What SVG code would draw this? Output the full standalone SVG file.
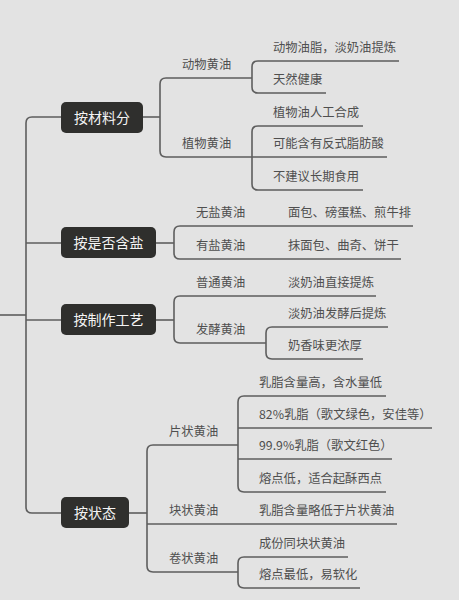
<svg xmlns="http://www.w3.org/2000/svg" width="459" height="600" viewBox="0 0 459 600">
<style>
.bg{fill:#e3e3e3}
.ln{fill:none;stroke:#5e5e5e;stroke-width:1.6;stroke-linecap:butt}
.nb{fill:#2f2f2d}
.nt{font-family:"Noto Sans CJK SC","Noto Sans",sans-serif;font-size:14px;fill:#f4f4f4;text-anchor:middle}
.t{font-family:"Noto Sans CJK SC","Noto Sans",sans-serif;font-size:12.3px;fill:#4f4f4f}
</style>
<rect class="bg" x="0" y="0" width="459" height="600"/>
<g id="connectors">
<path class="ln" d="M0 315 H26"/>
<path class="ln" d="M61 117 H32 Q26 117 26 123 V507 Q26 513 32 513 H61"/>
<path class="ln" d="M26 243 H61"/>
<path class="ln" d="M26 320 H61"/>
<path class="ln" d="M143 117 H160"/>
<path class="ln" d="M252 78 H166 Q160 78 160 84 V151 Q160 157 166 157 H387"/>
<path class="ln" d="M399 61 H258 Q252 61 252 67 V87 Q252 93 258 93 H326"/>
<path class="ln" d="M363 126 H258 Q252 126 252 132 V184 Q252 190 258 190 H363"/>
<path class="ln" d="M156 243 H174"/>
<path class="ln" d="M413 226 H180 Q174 226 174 232 V253 Q174 259 180 259 H401"/>
<path class="ln" d="M156 320 H174"/>
<path class="ln" d="M376 296 H180 Q174 296 174 302 V337 Q174 343 180 343 H266"/>
<path class="ln" d="M388 327 H272 Q266 327 266 333 V353 Q266 359 272 359 H363"/>
<path class="ln" d="M129 513 H147"/>
<path class="ln" d="M238 445 H153 Q147 445 147 451 V566 Q147 572 153 572 H238"/>
<path class="ln" d="M147 524 H397"/>
<path class="ln" d="M386 396 H244 Q238 396 238 402 V486 Q238 492 244 492 H386"/>
<path class="ln" d="M238 428 H432"/>
<path class="ln" d="M238 459 H392"/>
<path class="ln" d="M348 557 H244 Q238 557 238 563 V582 Q238 588 244 588 H360"/>
</g>
<g id="n-material"><rect class="nb" x="61" y="102" width="82" height="31" rx="5"/><text class="nt" x="102" y="122.5">按材料分</text></g>
<g id="n-salt"><rect class="nb" x="61" y="227" width="95" height="31" rx="5"/><text class="nt" x="108.5" y="247.5">按是否含盐</text></g>
<g id="n-craft"><rect class="nb" x="61" y="304" width="95" height="31" rx="5"/><text class="nt" x="108.5" y="324.5">按制作工艺</text></g>
<g id="n-state"><rect class="nb" x="61" y="497" width="68" height="31" rx="5"/><text class="nt" x="95" y="517.5">按状态</text></g>
<g id="n-animal"><text class="t" x="182" y="69">动物黄油</text></g>
<g id="n-plant"><text class="t" x="182" y="148">植物黄油</text></g>
<g id="n-a1"><text class="t" x="273" y="52">动物油脂，淡奶油提炼</text></g>
<g id="n-a2"><text class="t" x="273" y="84">天然健康</text></g>
<g id="n-p1"><text class="t" x="273" y="117">植物油人工合成</text></g>
<g id="n-p2"><text class="t" x="273" y="148">可能含有反式脂肪酸</text></g>
<g id="n-p3"><text class="t" x="273" y="181">不建议长期食用</text></g>
<g id="n-unsalted"><text class="t" x="196" y="217">无盐黄油</text></g>
<g id="n-salted"><text class="t" x="196" y="250">有盐黄油</text></g>
<g id="n-u1"><text class="t" x="288" y="217">面包、磅蛋糕、煎牛排</text></g>
<g id="n-s1"><text class="t" x="288" y="250">抹面包、曲奇、饼干</text></g>
<g id="n-normal"><text class="t" x="196" y="287">普通黄油</text></g>
<g id="n-ferment"><text class="t" x="196" y="334">发酵黄油</text></g>
<g id="n-nm1"><text class="t" x="288" y="287">淡奶油直接提炼</text></g>
<g id="n-f1"><text class="t" x="288" y="318">淡奶油发酵后提炼</text></g>
<g id="n-f2"><text class="t" x="288" y="350">奶香味更浓厚</text></g>
<g id="n-sheet"><text class="t" x="169" y="436">片状黄油</text></g>
<g id="n-block"><text class="t" x="169" y="515">块状黄油</text></g>
<g id="n-roll"><text class="t" x="169" y="563">卷状黄油</text></g>
<g id="n-sh1"><text class="t" x="259" y="387">乳脂含量高，含水量低</text></g>
<g id="n-sh2"><text class="t" x="259" y="419">82%乳脂（歌文绿色，安佳等）</text></g>
<g id="n-sh3"><text class="t" x="259" y="450">99.9%乳脂（歌文红色）</text></g>
<g id="n-sh4"><text class="t" x="259" y="483">熔点低，适合起酥西点</text></g>
<g id="n-b1"><text class="t" x="259" y="515">乳脂含量略低于片状黄油</text></g>
<g id="n-r1"><text class="t" x="259" y="548">成份同块状黄油</text></g>
<g id="n-r2"><text class="t" x="259" y="579">熔点最低，易软化</text></g>
</svg>
